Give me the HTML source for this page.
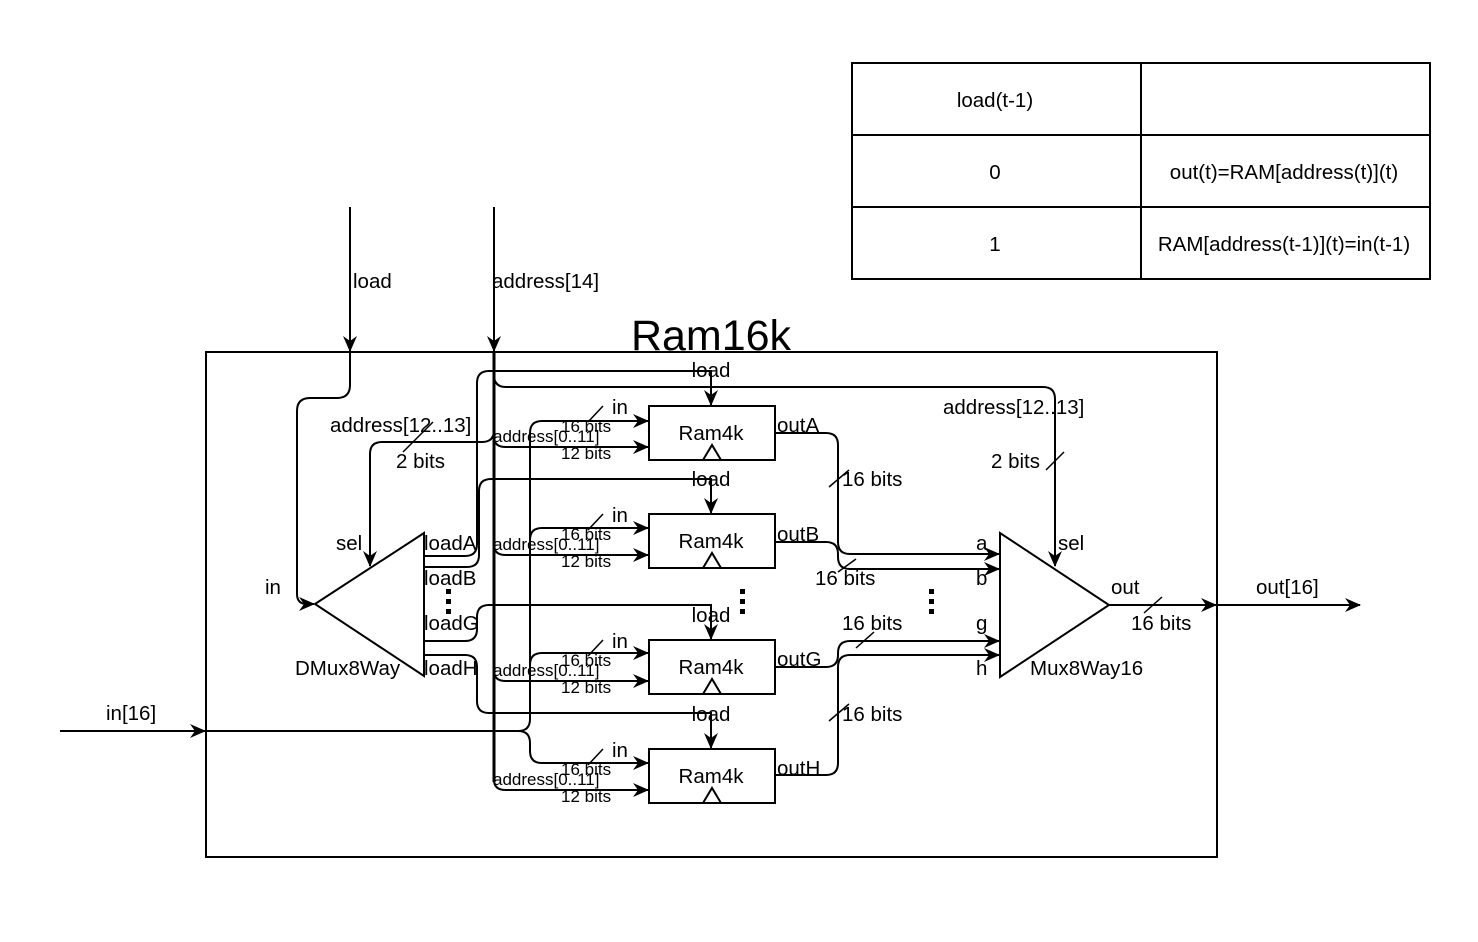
<!DOCTYPE html>
<html><head><meta charset="utf-8"><style>
html,body{margin:0;padding:0;background:#fff;}
svg{display:block;}
text{font-family:"Liberation Sans",Arial,sans-serif;fill:#000;}
</style></head><body>
<svg width="1478" height="942" viewBox="0 0 1478 942" xmlns="http://www.w3.org/2000/svg">
<defs>
<marker id="a" markerWidth="16" markerHeight="14" refX="15" refY="7" orient="auto" markerUnits="userSpaceOnUse">
<path d="M0,0 L16,7 L0,14 L5,7 Z" fill="#000"/>
</marker>
</defs>
<g fill="none" stroke="#000" stroke-width="2">
<rect x="852" y="63" width="578" height="216"/>
<line x1="1141" y1="63" x2="1141" y2="279"/>
<line x1="852" y1="135" x2="1430" y2="135"/>
<line x1="852" y1="207" x2="1430" y2="207"/>
<rect x="206" y="352" width="1011" height="505"/>
<line x1="350" y1="207" x2="350" y2="351" marker-end="url(#a)"/>
<line x1="494" y1="207" x2="494" y2="351" marker-end="url(#a)"/>
<path d="M350,352 V385 Q350,398 337,398 H310 Q297,398 297,411 V594 Q297,604 307,604 H314" marker-end="url(#a)"/>
<line x1="494" y1="352" x2="494" y2="782" stroke-width="3"/>
<path d="M494,430 Q494,442 482,442 H382 Q370,442 370,454 V566" marker-end="url(#a)"/>
<path d="M494,375 Q494,387 506,387 H1043 Q1055,387 1055,399 V566" marker-end="url(#a)"/>
<path d="M494,437 Q494,447 506,447 H648" marker-end="url(#a)"/>
<path d="M494,545 Q494,555 506,555 H648" marker-end="url(#a)"/>
<path d="M494,671 Q494,681 506,681 H648" marker-end="url(#a)"/>
<path d="M494,780 Q494,790 506,790 H648" marker-end="url(#a)"/>
<line x1="60" y1="731" x2="205" y2="731" marker-end="url(#a)"/>
<path d="M206,731 H518 Q530,731 530,719 V433 Q530,421 542,421 H648" marker-end="url(#a)"/>
<path d="M530,540 Q530,528 542,528 H648" marker-end="url(#a)"/>
<path d="M530,665 Q530,653 542,653 H648" marker-end="url(#a)"/>
<path d="M518,731 Q530,731 530,743 V751 Q530,763 542,763 H648" marker-end="url(#a)"/>
<polygon points="315,604 424,533 424,676"/>
<path d="M424,556 H465 Q477,556 477,544 V383 Q477,371 489,371 H711 V405" marker-end="url(#a)"/>
<path d="M424,567 H467 Q479,567 479,555 V491 Q479,479 491,479 H711 V513" marker-end="url(#a)"/>
<path d="M424,641 H465 Q477,641 477,629 V617 Q477,605 489,605 H711 V639" marker-end="url(#a)"/>
<path d="M424,655 H465 Q477,655 477,667 V701 Q477,713 489,713 H711 V748" marker-end="url(#a)"/>
<rect x="649" y="406" width="126" height="54"/>
<rect x="649" y="514" width="126" height="54"/>
<rect x="649" y="640" width="126" height="54"/>
<rect x="649" y="749" width="126" height="54"/>
<polyline points="703,460 712,445 721,460"/>
<polyline points="703,568 712,553 721,568"/>
<polyline points="703,694 712,679 721,694"/>
<polyline points="703,803 712,788 721,803"/>
<path d="M775,433 H826 Q838,433 838,445 V542 Q838,554 850,554 H999" marker-end="url(#a)"/>
<path d="M775,542 H826 Q838,542 838,554 V557 Q838,569 850,569 H999" marker-end="url(#a)"/>
<path d="M775,667 H826 Q838,667 838,655 V653 Q838,641 850,641 H999" marker-end="url(#a)"/>
<path d="M775,775 H826 Q838,775 838,763 V667 Q838,655 850,655 H999" marker-end="url(#a)"/>
<polygon points="1000,533 1000,677 1109,605"/>
<line x1="1109" y1="605" x2="1216" y2="605" marker-end="url(#a)"/>
<line x1="1217" y1="605" x2="1360" y2="605" marker-end="url(#a)"/>
<g stroke-width="1.5">
<line x1="403" y1="452" x2="433" y2="422"/>
<line x1="588" y1="422" x2="603" y2="406"/>
<line x1="588" y1="530" x2="603" y2="514"/>
<line x1="588" y1="656" x2="603" y2="640"/>
<line x1="588" y1="765" x2="603" y2="749"/>
<line x1="829" y1="487" x2="849" y2="470"/>
<line x1="838" y1="572" x2="856" y2="559"/>
<line x1="856" y1="648" x2="874" y2="632"/>
<line x1="829" y1="721" x2="849" y2="704"/>
<line x1="1046" y1="470" x2="1064" y2="452"/>
<line x1="1144" y1="613" x2="1162" y2="597"/>
</g>
</g>
<g fill="#000">
<rect x="446" y="589" width="5" height="5"/><rect x="446" y="599" width="5" height="5"/><rect x="446" y="609" width="5" height="5"/>
<rect x="740" y="589" width="5" height="5"/><rect x="740" y="599" width="5" height="5"/><rect x="740" y="609" width="5" height="5"/>
<rect x="929" y="589" width="5" height="5"/><rect x="929" y="599" width="5" height="5"/><rect x="929" y="609" width="5" height="5"/>
</g>
<g font-size="20.5">
<text x="995" y="107" text-anchor="middle">load(t-1)</text>
<text x="995" y="179" text-anchor="middle">0</text>
<text x="995" y="251" text-anchor="middle">1</text>
<text x="1284" y="179" text-anchor="middle">out(t)=RAM[address(t)](t)</text>
<text x="1284" y="251" text-anchor="middle">RAM[address(t-1)](t)=in(t-1)</text>
<text x="353" y="288">load</text>
<text x="492" y="288">address[14]</text>
<text x="330" y="432">address[12..13]</text>
<text x="396" y="468">2 bits</text>
<text x="336" y="550">sel</text>
<text x="265" y="594">in</text>
<text x="424" y="550">loadA</text>
<text x="424" y="585">loadB</text>
<text x="424" y="630">loadG</text>
<text x="424" y="675">loadH</text>
<text x="295" y="675">DMux8Way</text>
<text x="106" y="720">in[16]</text>
<text x="777" y="432">outA</text>
<text x="777" y="541">outB</text>
<text x="777" y="666">outG</text>
<text x="777" y="775">outH</text>
<text x="842" y="486">16 bits</text>
<text x="815" y="585">16 bits</text>
<text x="842" y="630">16 bits</text>
<text x="842" y="721">16 bits</text>
<text x="943" y="414">address[12..13]</text>
<text x="991" y="468">2 bits</text>
<text x="976" y="550">a</text>
<text x="976" y="585">b</text>
<text x="976" y="630">g</text>
<text x="976" y="675">h</text>
<text x="1058" y="550">sel</text>
<text x="1111" y="594">out</text>
<text x="1030" y="675">Mux8Way16</text>
<text x="1131" y="630">16 bits</text>
<text x="1256" y="594">out[16]</text>
<text x="711" y="440" text-anchor="middle">Ram4k</text>
<text x="711" y="548" text-anchor="middle">Ram4k</text>
<text x="711" y="674" text-anchor="middle">Ram4k</text>
<text x="711" y="783" text-anchor="middle">Ram4k</text>
<text x="711" y="377" text-anchor="middle">load</text>
<text x="711" y="486" text-anchor="middle">load</text>
<text x="711" y="622" text-anchor="middle">load</text>
<text x="711" y="721" text-anchor="middle">load</text>
<text x="612" y="414">in</text>
<text x="612" y="522">in</text>
<text x="612" y="648">in</text>
<text x="612" y="757">in</text>
</g>
<g font-size="17">
<text x="561" y="432">16 bits</text><text x="493" y="442">address[0..11]</text><text x="561" y="459">12 bits</text>
<text x="561" y="540">16 bits</text><text x="493" y="550">address[0..11]</text><text x="561" y="567">12 bits</text>
<text x="561" y="666">16 bits</text><text x="493" y="676">address[0..11]</text><text x="561" y="693">12 bits</text>
<text x="561" y="775">16 bits</text><text x="493" y="785">address[0..11]</text><text x="561" y="802">12 bits</text>
</g>
<text x="711" y="350" font-size="43" text-anchor="middle">Ram16k</text>
</svg>
</body></html>
